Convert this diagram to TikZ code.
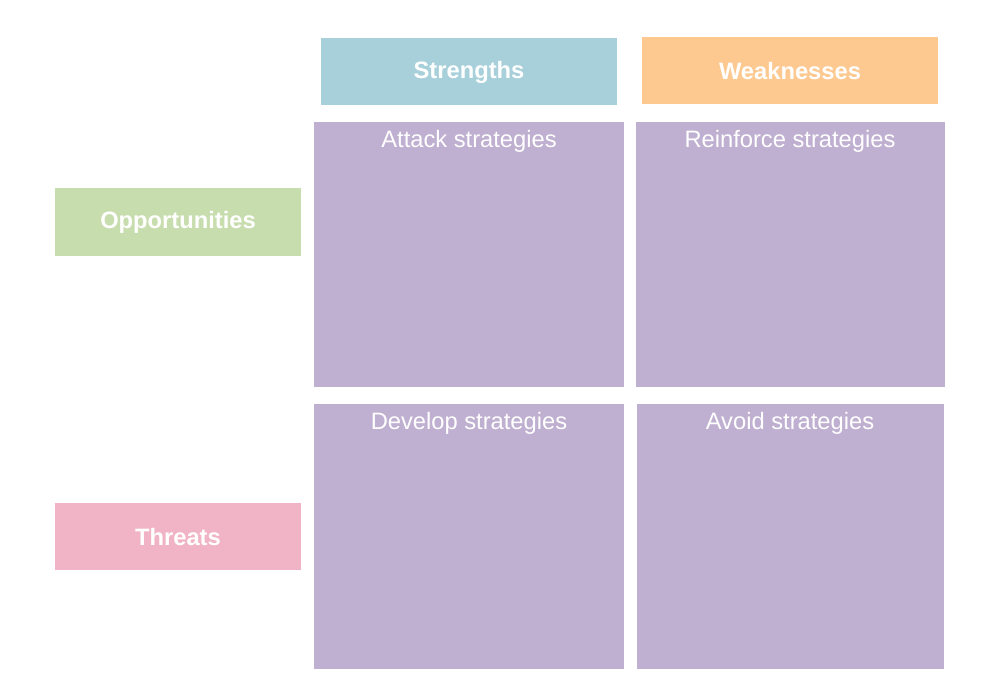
\documentclass[tikz,border=0pt]{standalone}
\usepackage{fontspec}
\setmainfont{Liberation Sans}
\definecolor{cS}{HTML}{A8D0DA}
\definecolor{cW}{HTML}{FDC990}
\definecolor{cO}{HTML}{C8DDAE}
\definecolor{cT}{HTML}{F0B4C6}
\definecolor{cP}{HTML}{BFAFD0}
\begin{document}
\begin{tikzpicture}[x=0.02cm,y=-0.02cm,
 hdr/.style={font=\fontsize{13.5}{16}\selectfont\bfseries,text=white},
 ttl/.style={font=\fontsize{13.5}{16}\selectfont,text=white,anchor=center}]
\useasboundingbox (0,0) rectangle (1000,693);
\fill[cS] (321,38) rectangle (617,105); \node[hdr] (s) at (469,72) {Strengths};
\fill[cW] (642,37) rectangle (938,104); \node[hdr] (w) at (790,71) {Weaknesses};
\fill[cO] (55,188) rectangle (301,256); \node[hdr] (o) at (178,222) {Opportunities};
\fill[cT] (55,503) rectangle (301,570); \node[hdr] (t) at (178,537) {Threats};
\fill[cP] (314,122) rectangle (624,387); \node[ttl] (a) at (469,141) {Attack strategies};
\fill[cP] (636,122) rectangle (945,387); \node[ttl] (r) at (790,141) {Reinforce strategies};
\fill[cP] (314,404) rectangle (624,669); \node[ttl] (d) at (469,423) {Develop strategies};
\fill[cP] (637,404) rectangle (944,669); \node[ttl] (v) at (790,423) {Avoid strategies};
\end{tikzpicture}
\end{document}
